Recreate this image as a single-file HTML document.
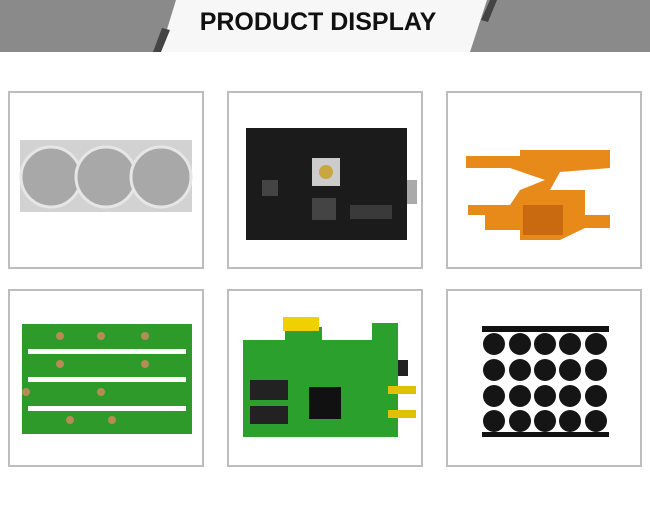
<!DOCTYPE html>
<html><head><style>
html,body{margin:0;padding:0;background:#fff;width:650px;height:510px;overflow:hidden}
</style></head><body>
<svg width="650" height="510" xmlns="http://www.w3.org/2000/svg">
<rect x="0" y="0" width="650" height="52" fill="#8a8a8a"/>
<polygon points="176,0 487,0 470,52 160,52" fill="#f7f7f7"/>
<polygon points="162,28 170,30 161,52 153,52" fill="#444"/>
<polygon points="490,0 497,0 488,22 481,20" fill="#444"/>
<text x="318" y="30" text-anchor="middle" font-family="Liberation Sans, sans-serif" font-weight="bold" font-size="25" fill="#111">PRODUCT DISPLAY</text>

<g fill="none" stroke="#bdbdbd" stroke-width="2">
<rect x="9" y="92" width="194" height="176"/>
<rect x="228" y="92" width="194" height="176"/>
<rect x="447" y="92" width="194" height="176"/>
<rect x="9" y="290" width="194" height="176"/>
<rect x="228" y="290" width="194" height="176"/>
<rect x="447" y="290" width="194" height="176"/>
</g>

<!-- 1: aluminum -->
<rect x="20" y="140" width="172" height="72" fill="#d2d2d2"/>
<g fill="#a8a8a8" stroke="#e6e6e6" stroke-width="3">
<circle cx="51" cy="177" r="30"/><circle cx="106" cy="177" r="30"/><circle cx="161" cy="177" r="30"/>
</g>
<!-- 2: black pcb -->
<rect x="246" y="128" width="161" height="112" fill="#1b1b1b"/>
<rect x="312" y="158" width="28" height="28" fill="#ccc"/><circle cx="326" cy="172" r="7" fill="#c9a640"/>
<rect x="312" y="198" width="24" height="22" fill="#444"/><rect x="350" y="205" width="42" height="14" fill="#3a3a3a"/>
<rect x="262" y="180" width="16" height="16" fill="#444"/>
<rect x="407" y="180" width="10" height="24" fill="#aaa"/>
<!-- 3: flex -->
<polygon points="466,156 520,156 520,150 610,150 610,168 560,172 550,190 585,190 585,215 610,215 610,228 585,228 560,240 520,240 520,230 485,230 485,215 468,215 468,205 510,205 520,190 545,180 510,168 466,168" fill="#e88a1a"/>
<rect x="523" y="205" width="40" height="30" fill="#c96a10"/>
<!-- 4: green panel -->
<rect x="22" y="324" width="170" height="110" fill="#2d9a2a"/>
<g fill="#fff">
<rect x="28" y="349" width="158" height="5"/><rect x="28" y="377" width="158" height="5"/><rect x="28" y="406" width="158" height="5"/>
</g>
<g fill="#b58c55"><circle cx="60" cy="336" r="4"/><circle cx="101" cy="336" r="4"/><circle cx="145" cy="336" r="4"/><circle cx="60" cy="364" r="4"/><circle cx="101" cy="392" r="4"/><circle cx="145" cy="364" r="4"/><circle cx="26" cy="392" r="4"/><circle cx="112" cy="420" r="4"/><circle cx="70" cy="420" r="4"/></g>
<!-- 5: green board -->
<polygon points="243,340 285,340 285,327 322,327 322,340 372,340 372,323 398,323 398,437 243,437" fill="#2ca02c"/>
<rect x="283" y="317" width="36" height="14" fill="#f0d000"/>
<rect x="309" y="387" width="32" height="32" fill="#111"/>
<rect x="250" y="406" width="38" height="18" fill="#222"/>
<rect x="250" y="380" width="38" height="20" fill="#222"/>
<rect x="398" y="360" width="10" height="16" fill="#222"/>
<rect x="388" y="410" width="28" height="8" fill="#e0c000"/>
<rect x="388" y="386" width="28" height="8" fill="#e0c000"/>
<!-- 6: black led panel -->
<rect x="482" y="326" width="127" height="6" fill="#111"/>
<rect x="482" y="432" width="127" height="5" fill="#111"/>
<g fill="#151515">
<circle cx="494" cy="344" r="11"/><circle cx="520" cy="344" r="11"/><circle cx="545" cy="344" r="11"/><circle cx="570" cy="344" r="11"/><circle cx="596" cy="344" r="11"/>
<circle cx="494" cy="370" r="11"/><circle cx="520" cy="370" r="11"/><circle cx="545" cy="370" r="11"/><circle cx="570" cy="370" r="11"/><circle cx="596" cy="370" r="11"/>
<circle cx="494" cy="396" r="11"/><circle cx="520" cy="396" r="11"/><circle cx="545" cy="396" r="11"/><circle cx="570" cy="396" r="11"/><circle cx="596" cy="396" r="11"/>
<circle cx="494" cy="421" r="11"/><circle cx="520" cy="421" r="11"/><circle cx="545" cy="421" r="11"/><circle cx="570" cy="421" r="11"/><circle cx="596" cy="421" r="11"/>
</g>
</svg>
</body></html>
